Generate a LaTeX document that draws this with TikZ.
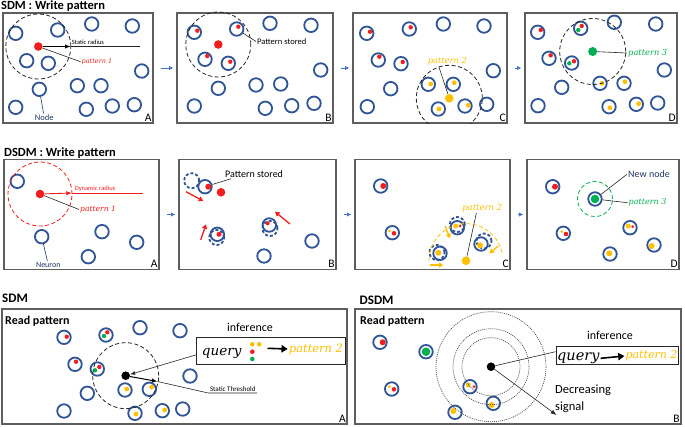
\documentclass[tikz,border=0pt]{standalone}
\usepackage{fontspec}
\setmainfont{Carlito}
\newfontfamily\patfont{DejaVu Serif}
\usepackage{tikz}
\usetikzlibrary{positioning,arrows.meta}
\definecolor{nsblue}{HTML}{2F5597}
\definecolor{nsnavy}{HTML}{203864}
\definecolor{nsred}{HTML}{F21D1D}
\definecolor{nsyellow}{HTML}{FFC000}
\definecolor{nsgreen}{HTML}{00B050}
\definecolor{nsgrey}{HTML}{5E5E5E}
\definecolor{nsflow}{HTML}{4472C4}
\newcommand{\fsz}[1]{\fontsize{#1}{#1}\selectfont}
\tikzset{
  panel/.style={draw=nsgrey,line width=1.3pt,inner sep=0pt},
  neuron/.style={circle,draw=nsblue,line width=1.8pt,minimum size=13.5pt,inner sep=0pt},
  ghost/.style={neuron,minimum size=15pt,dash pattern=on 3pt off 2pt},
  seed/.style={circle,inner sep=0pt,minimum size=8.6pt},
  reach/.style={draw=black!85,line width=0.8pt,dash pattern=on 4pt off 2.5pt},
  ripple/.style={draw=black!70,line width=0.7pt,dash pattern=on 1pt off 1pt},
  flow/.style={-{Latex[length=1.5mm,width=1.5mm]},draw=nsflow,line width=0.8pt,shorten <=7pt,shorten >=3pt},
  lead/.style={draw=black!85,line width=0.6pt},
  push/.style={-{Triangle[length=1.6mm,width=1.8mm]},line width=1.3pt},
  fat/.style={-{Triangle[length=2.2mm,width=2.6mm]},line width=1.6pt},
  title/.style={font=\bfseries\fsz{12.5},inner sep=0pt,anchor=west},
  tag/.style={font=\fsz{11.5},inner sep=1.8pt,anchor=south east},
  qbox/.style={draw=black!85,line width=1pt,inner sep=0pt},
  lbl/.style={font=\fsz{8.5},inner sep=1pt},
  pat/.style={font=\patfont\itshape\fsz{#1},inner sep=1pt},
}
\begin{document}
\begin{tikzpicture}[x=1pt,y=-1pt]
  \useasboundingbox (0,0) rectangle (685,426);

  % SDM write row
  \node[title] (sdmw) at (1,6) {SDM : Write pattern};
  \node[panel,minimum width=150pt,minimum height=110pt] (wA) at (78,68) {};
  \node[panel,minimum width=156pt,minimum height=110pt] (wB) at (255,68) {};
  \node[panel,minimum width=154pt,minimum height=110pt] (wC) at (430,68) {};
  \node[panel,minimum width=152pt,minimum height=110pt] (wD) at (601,68) {};
  \foreach \p/\t in {wA/A,wB/B,wC/C,wD/D} \node[tag] (\p-l) at (\p.south east) {\t};
  \draw[flow] (wA) -- (wB); \draw[flow] (wB) -- (wC); \draw[flow] (wC) -- (wD);

  \foreach \x/\y [count=\i] in {15.7/33.3,57.7/30,91.7/24,132.3/26,26.7/60.7,48.3/63.3,141.7/71,39.3/89.3,77.3/85.7,101/85.7,15.7/107.3,86.3/109.3,112.3/106,134.3/104.7}
    \node[neuron] (a\i) at (\x,\y) {};
  \node[seed,fill=nsred] (pa) at (38.3,46.5) {};
  \draw[reach] (pa) circle[radius=32.5pt];
  \coordinate (ra) at (70.8,46.5); \coordinate (rb) at (140,46.5);
  \draw[-{Latex[length=2mm]},line width=0.9pt] (pa) -- (ra);
  \draw[lead] (ra) -- (rb);
  \node[font=\fsz{6.5},inner sep=0pt] (srad) at (88,42) {Static radius};
  \node[pat=6.5,text=nsred,anchor=west] (pal) at (80.5,61.7) {pattern 1};
  \draw[lead] (pa) -- (pal.west);
  \node[lbl,text=nsnavy] (nodel) at (44.3,117.5) {Node};
  \draw[lead,draw=nsnavy] (a8) -- (nodel);

  \foreach \x/\y [count=\i] in {194.3/32.3,236.7/29,270/23.3,311/25.3,205/59.3,228.3/63.3,320.7/70,218.3/88.3,256/85,280.7/84,194.3/106,265.3/108.3,291.7/105.7,314/103.3}
    \node[neuron] (b\i) at (\x,\y) {};
  \foreach \x/\y in {197.3/30.7,238.3/26.7,207.3/56,230.3/61.7} \fill[nsred] (\x,\y) circle[radius=2.2pt];
  \node[seed,fill=nsred] (pb) at (218.3,44.5) {};
  \draw[reach] (pb) circle[radius=32.5pt];
  \node[lbl,anchor=west] (pbs) at (256,41.5) {Pattern stored};
  \draw[lead] (b2) -- (pbs.west);

  \foreach \x/\y [count=\i] in {366.7/33.3,409.3/29,443.3/24,484/26,378.3/60,401/63.7,493.3/70.7,390.7/88.7,428.3/84.3,453.3/84.3,367.3/106.7,438.3/109,465/106,486.7/104.3}
    \node[neuron] (c\i) at (\x,\y) {};
  \foreach \x/\y in {370/31.7,410.7/27.3,379.3/56.7,402.7/62} \fill[nsred] (\x,\y) circle[radius=2.2pt];
  \foreach \x/\y in {430.7/84,454.3/82.7,439/109,468.3/105.3} \fill[nsyellow] (\x,\y) circle[radius=2.4pt];
  \node[seed,fill=nsyellow] (pc) at (449.3,98.3) {};
  \begin{scope}
    \clip (wC.south west) rectangle (wC.north east);
    \draw[reach] (pc) circle[radius=33pt];
  \end{scope}
  \node[pat=8.3,text=nsyellow] (pcl) at (447.3,61.5) {pattern 2};
  \draw[lead] ([xshift=-8.5pt]pcl.south) -- (pc);

  \foreach \x/\y [count=\i] in {537.7/32.3,580.7/28.3,614.3/22.3,655.7/24,549/58.3,571.7/63,664.3/70,561.7/87.3,600/83.3,624/83.3,538/105.7,609/106.7,636.3/104.3,657.7/103}
    \node[neuron] (d\i) at (\x,\y) {};
  \foreach \x/\y in {540.7/30,581.7/26,550.7/55.3,574/61.3} \fill[nsred] (\x,\y) circle[radius=2.2pt];
  \foreach \x/\y in {578.3/30,569.3/63.3} \fill[nsgreen] (\x,\y) circle[radius=2.2pt];
  \foreach \x/\y in {602/83.3,625/81.7,610/107.7,638.7/103.7} \fill[nsyellow] (\x,\y) circle[radius=2.4pt];
  \node[seed,fill=nsgreen,minimum size=9pt] (pd) at (592.7,51.5) {};
  \draw[reach] (pd) circle[radius=33pt];
  \node[pat=8.3,text=nsgreen,anchor=west] (pdl) at (627,53) {pattern 3};
  \draw[lead] (pd) -- (pdl.west);

  % DSDM write row
  \node[title] (dsdmw) at (4,153.3) {DSDM : Write pattern};
  \node[panel,minimum width=155pt,minimum height=109.5pt] (vA) at (81.5,214.5) {};
  \node[panel,minimum width=157pt,minimum height=109.5pt] (vB) at (257.5,214.5) {};
  \node[panel,minimum width=155pt,minimum height=109.5pt] (vC) at (432.5,214.5) {};
  \node[panel,minimum width=152pt,minimum height=109.5pt] (vD) at (603,214.5) {};
  \foreach \p/\t in {vA/A,vB/B,vC/C,vD/D} \node[tag] (\p-l) at (\p.south east) {\t};
  \draw[flow] (vA) -- (vB); \draw[flow] (vB) -- (vC); \draw[flow] (vC) -- (vD);

  \foreach \x/\y [count=\i] in {17.3/181.3,41.7/236.7,102/231.7,136.7/242.3,88.3/256.7}
    \node[neuron] (e\i) at (\x,\y) {};
  \node[seed,fill=nsred] (qa) at (40,194) {};
  \draw[reach,draw=nsred] (qa) circle[radius=32pt];
  \coordinate (qra) at (72,193); \coordinate (qrb) at (143.3,193);
  \draw[-{Latex[length=2mm]},draw=nsred,line width=0.9pt] (qa) -- (qra);
  \draw[draw=nsred,line width=0.6pt] (qra) -- (qrb);
  \node[text=nsred,font=\fsz{6.5},inner sep=0pt] (drad) at (95,188.3) {Dynamic radius};
  \node[pat=7.6,text=nsred,anchor=west] (qal) at (79,209.5) {pattern 1};
  \draw[lead] (qa) -- (qal.west);
  \node[lbl,font=\fsz{8},text=nsnavy] (neul) at (48.3,265) {Neuron};
  \draw[lead,draw=nsnavy] (e2) -- (neul);

  \node[ghost] (f1g) at (191.7,180.7) {};
  \node[neuron] (f1) at (205,186.7) {};
  \fill[nsred] (208.3,186.7) circle[radius=3pt];
  \node[seed,fill=nsred] (qb) at (221,192.3) {};
  \coordinate (m1a) at (186,191.7); \coordinate (m1b) at (203.3,201);
  \draw[push,draw=nsred] (m1a) -- (m1b);
  \node[lbl,font=\fsz{10},anchor=west] (qbs) at (224,174) {Pattern stored};
  \draw[lead] (f1) -- ([xshift=7pt]qbs.south west);
  \node[ghost] (f2g) at (216.7,237.5) {};
  \node[neuron] (f2) at (217.3,234.3) {};
  \fill[nsred] (219,234.3) circle[radius=2.5pt];
  \coordinate (m2a) at (200.7,240); \coordinate (m2b) at (206,224.3);
  \draw[push,draw=nsred] (m2a) -- (m2b);
  \node[ghost] (f3g) at (270,228.5) {};
  \node[neuron] (f3) at (269.3,225) {};
  \fill[nsred] (267.7,223.3) circle[radius=2pt];
  \coordinate (m3a) at (290,224); \coordinate (m3b) at (275,211.7);
  \draw[push,draw=nsred] (m3a) -- (m3b);
  \node[neuron] (f4) at (264,256) {};
  \node[neuron] (f5) at (312,241) {};

  \foreach \x/\y [count=\i] in {380.7/186,392.3/232.7,457.3/227.7,481/244,440/253.3}
    \node[neuron] (g\i) at (\x,\y) {};
  \node[ghost] (g3g) at (457.3,224.5) {};
  \node[ghost] (g4g) at (484,241) {};
  \node[ghost] (g5g) at (437,252.5) {};
  \fill[nsred] (383.3,186) circle[radius=3pt];
  \fill[nsyellow] (389.3,231) circle[radius=1.5pt]; \fill[nsred] (394,233.3) circle[radius=2.3pt];
  \fill[nsyellow] (455.7,226) circle[radius=2.5pt]; \fill[nsred] (460,226) circle[radius=1.5pt];
  \fill[nsyellow] (480,245.3) circle[radius=3pt];
  \fill[nsyellow] (438.3,252.7) circle[radius=3pt];
  \node[seed,fill=nsyellow] (pc2) at (466,260.7) {};
  \draw[reach,draw=nsyellow] (pc2.center) ++(180:37pt) arc[start angle=180,end angle=11,radius=37pt];
  \coordinate (y1a) at (445,226); \coordinate (y1b) at (450,238.3);
  \coordinate (y2a) at (430,265); \coordinate (y2b) at (443.3,265);
  \coordinate (y3a) at (498.3,246); \coordinate (y3b) at (489.3,253.3);
  \draw[push,draw=nsyellow] (y1a) -- (y1b);
  \draw[push,draw=nsyellow] (y2a) -- (y2b);
  \draw[push,draw=nsyellow] (y3a) -- (y3b);
  \node[pat=8.5,text=nsyellow] (pc2l) at (482.3,208) {pattern 2};
  \draw[lead] ([xshift=-6pt]pc2l.south) -- (pc2);

  \foreach \x/\y [count=\i] in {552.7/186.7,595/199,563.3/233.3,630/227.7,654/245,610/254}
    \node[neuron] (h\i) at (\x,\y) {};
  \node[seed,fill=nsgreen] (pd2) at (595,199) {};
  \draw[reach,draw=nsgreen] (h2) circle[radius=17.5pt];
  \fill[nsred] (555,186.7) circle[radius=3pt];
  \fill[nsyellow] (561.7,231.7) circle[radius=1.5pt]; \fill[nsred] (566,234) circle[radius=2.3pt];
  \fill[nsyellow] (628.3,226) circle[radius=2.5pt]; \fill[nsred] (632.7,226.7) circle[radius=1.5pt];
  \fill[nsyellow] (651.7,246) circle[radius=3pt];
  \fill[nsyellow] (609.3,253.3) circle[radius=3pt];
  \node[lbl,font=\fsz{10},text=nsnavy,anchor=west] (newl) at (627,174.3) {New node};
  \draw[lead] (h2) -- (newl.west);
  \node[pat=8,text=nsgreen,anchor=west] (pd2l) at (627.5,202.7) {pattern 3};
  \draw[lead] (h2) -- (pd2l.west);

  % read row
  \node[title,font=\bfseries\fsz{13}] (sdmt) at (2,298.3) {SDM};
  \node[panel,minimum width=345pt,minimum height=115pt] (rA) at (174.5,366.5) {};
  \node[title,font=\bfseries\fsz{12}] (rdA) at (5,321) {Read pattern};
  \node[tag] (rA-l) at (rA.south east) {A};
  \foreach \x/\y [count=\i] in {64/337.3,106/335,140/327.7,180/330.7,75/364.3,97.3/369,190/376,87.3/393.3,125/390,149.3/389.3,64/411,135/413.3,162.3/410.7,182.7/409}
    \node[neuron] (r\i) at (\x,\y) {};
  \foreach \x/\y in {66.7/336.7,107.3/332.3,76/361.7,99.3/367} \fill[nsred] (\x,\y) circle[radius=2.2pt];
  \foreach \x/\y in {104/336,95/370.3} \fill[nsgreen] (\x,\y) circle[radius=2.2pt];
  \foreach \x/\y in {126.7/389,151.7/387,136/414,164.7/410} \fill[nsyellow] (\x,\y) circle[radius=2.4pt];
  \node[seed,fill=black] (sq) at (125.7,375.7) {};
  \draw[reach] (sq) circle[radius=33pt];
  \coordinate (sth) at (157.5,381.5);
  \draw[-{Latex[length=2mm]},line width=1pt] (sq) -- (sth);
  \node[font=\fsz{7},inner sep=1.5pt,anchor=south west] (thr) at (208.3,393) {Static Threshold};
  \draw[lead] (sth) -- (thr.south west) -- (thr.south east);
  \node[qbox,minimum width=149pt,minimum height=27.3pt] (qA) at (271.2,351.3) {};
  \draw[lead,-{Latex[length=1.8mm]}] ([yshift=-3.5pt]qA.west) -- (sq);
  \node[font=\fsz{12}] (infA) at (250,327.3) {inference};
  \node[pat=13.5] (qAq) at (221.7,353.3) {query};
  \fill[nsyellow] (252.3,344.3) circle[radius=2.3pt];
  \fill[nsyellow] (259.3,344.3) circle[radius=2.3pt];
  \fill[nsred] (252.3,351.7) circle[radius=2.3pt];
  \fill[nsgreen] (252.3,359) circle[radius=2.3pt];
  \node[pat=11.5,text=nsyellow] (qAp) at (316,349) {pattern 2};
  \coordinate (qAs) at (267.5,348.3);
  \draw[fat] (qAs) -- (qAp.west);

  \node[title,font=\bfseries\fsz{13}] (dsdmt) at (359.5,300) {DSDM};
  \node[panel,minimum width=326pt,minimum height=115pt] (rB) at (518,366.5) {};
  \node[title,font=\bfseries\fsz{12}] (rdB) at (360,321) {Read pattern};
  \node[tag] (rB-l) at (rB.south east) {B};
  \foreach \x/\y [count=\i] in {380/342.3,426/351.7,391.7/389,470/386.7,493.3/403.3,455/412.3}
    \node[neuron] (s\i) at (\x,\y) {};
  \node[seed,fill=nsgreen] (sg) at (426,351.7) {};
  \fill[nsred] (382.7,342.3) circle[radius=3pt];
  \fill[nsyellow] (389.3,386.7) circle[radius=1.5pt]; \fill[nsred] (394,389.3) circle[radius=2.3pt];
  \fill[nsyellow] (468.3,385) circle[radius=2.5pt]; \fill[nsred] (474,386.7) circle[radius=1.5pt];
  \fill[nsyellow] (491.7,405) circle[radius=3pt];
  \fill[nsyellow] (453.3,411) circle[radius=3pt];
  \node[seed,fill=black] (dq) at (491,366.7) {};
  \foreach \r in {29,38,55} \draw[ripple] (dq) circle[radius=\r pt];
  \node[qbox,minimum width=122pt,minimum height=17.5pt] (qB) at (617,355.7) {};
  \draw[lead] (dq) -- ([yshift=4pt]qB.west);
  \node[font=\fsz{12}] (infB) at (610,335.7) {inference};
  \node[pat=14.5] (qBq) at (578.3,358.3) {query};
  \node[pat=11,text=nsyellow] (qBp) at (651.5,356) {pattern 2};
  \draw[fat] (qBq.east) -- (qBp.west);
  \node[font=\fontsize{12.5}{16.7}\selectfont,align=left,anchor=north west,inner sep=1pt] (dsig) at (554,383.5) {Decreasing\\signal};
  \coordinate (dse) at (556.5,415);
  \draw[lead,-{Latex[length=2mm]}] (dq) -- (dse);
\end{tikzpicture}
\end{document}
